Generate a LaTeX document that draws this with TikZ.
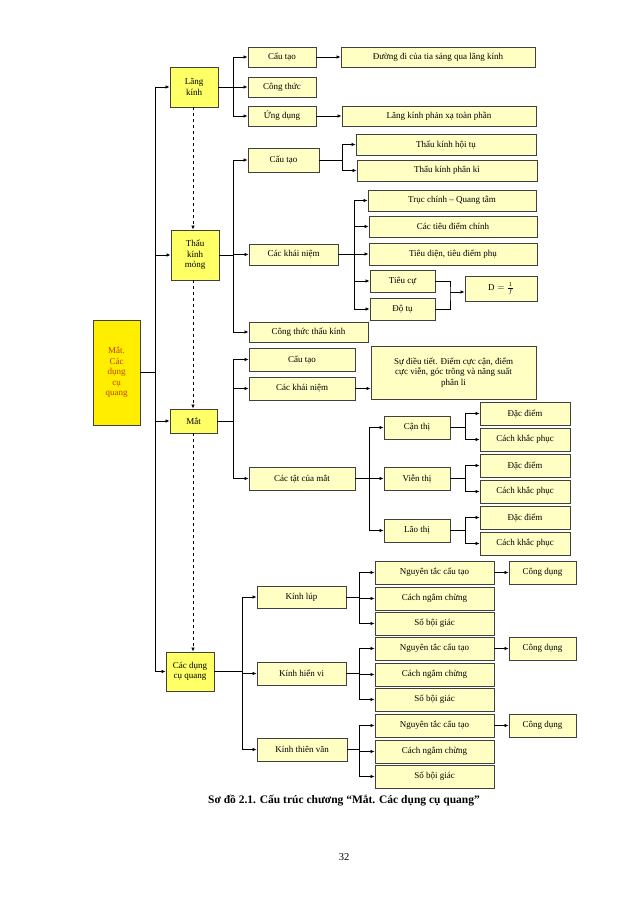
\documentclass[tikz,border=0pt]{standalone}
\usepackage{fontspec}
\setmainfont{Liberation Serif}
\usetikzlibrary{arrows.meta}
\definecolor{lt}{HTML}{FFFFC4}
\definecolor{md}{HTML}{FFFF66}
\definecolor{rt}{HTML}{FFEE00}
\definecolor{bd}{HTML}{404040}
\definecolor{rtx}{HTML}{C04000}
\tikzset{
 box/.style={draw=bd,line width=0.9pt,fill=lt,inner sep=1pt,align=center,font=\fontsize{9}{10.5}\selectfont},
 main/.style={box,fill=md},
 arr/.style={-{Latex[length=4pt,width=3.5pt]},line width=0.7pt},
 ln/.style={line width=0.7pt},
 darr/.style={arr,dashed}
}
\newcommand\bx[7][]{\node[box,#1,minimum width={((#4)-(#3))*1pt},minimum height={((#6)-(#5))*1pt}] (#2) at ({((#3)+(#4))/2},{((#5)+(#6))/2}) {#7};}
\begin{document}
\begin{tikzpicture}[x=1pt,y=-1pt]
\useasboundingbox[fill=white] (0,0) rectangle (638,902);
% main column
\bx[main,fill=rt,text=rtx]{R}{93}{140}{320}{425}{Mắt.\\Các\\dụng\\cụ\\quang}
\bx[main]{L}{170}{218}{67}{107}{Lăng\\kính}
\bx[main]{T}{171}{219}{230}{280}{Thấu\\kính\\mỏng}
\bx[main]{M}{170}{217}{409}{433}{Mắt}
\bx[main]{D}{166}{214}{652}{691}{Các dụng\\cụ quang}
\coordinate (t0) at (155,0);
\coordinate (tv) at (193,0);
\draw[ln] (R.east) -- (R.east -| t0);
\foreach \n in {L,T,M,D} \draw[arr] (R.east -| t0) |- (\n.west);
\draw[darr] (L.south -| tv) -- (T.north -| tv);
\draw[darr] (T.south -| tv) -- (M.north -| tv);
\draw[darr] (M.south -| tv) -- (D.north -| tv);
% Lang kinh
\bx{L1}{248}{316}{47}{67}{Cấu tạo}
\bx{L2}{248}{316}{77}{97}{Công thức}
\bx{L3}{248}{316}{106}{126}{Ứng dụng}
\bx{L1a}{341}{535}{47}{67}{Đường đi của tia sáng qua lăng kính}
\bx{L3a}{342}{536}{106}{126}{Lăng kính phản xạ toàn phần}
\coordinate (t1) at (233,0);
\draw[ln] (L.east) -- (L.east -| t1);
\foreach \n in {L1,L2,L3} \draw[arr] (L.east -| t1) |- (\n.west);
\draw[arr] (L1) -- (L1a); \draw[arr] (L3) -- (L3a);
% Thau kinh
\bx{T1}{248}{319}{148}{172}{Cấu tạo}
\bx{T2}{249}{338}{244}{265}{Các khái niệm}
\bx{T3}{249}{368}{322}{342}{Công thức thấu kính}
\draw[ln] (T.east) -- (T.east -| t1);
\foreach \n in {T1,T2,T3} \draw[arr] (T.east -| t1) |- (\n.west);
\bx{T1a}{356}{536}{134}{155}{Thấu kính hội tụ}
\bx{T1b}{357}{537}{160}{181}{Thấu kính phân kì}
\coordinate (t2) at (342,0);
\draw[ln] (T1.east) -- (T1.east -| t2);
\foreach \n in {T1a,T1b} \draw[arr] (T1.east -| t2) |- (\n.west);
\bx{K1}{368}{536}{190}{211}{Trục chính -- Quang tâm}
\bx{K2}{369}{537}{216}{237}{Các tiêu điểm chính}
\bx{K3}{369}{537}{243}{265}{Tiêu diện, tiêu điểm phụ}
\bx{K4}{370}{435}{270}{292}{Tiêu cự}
\bx{K5}{370}{435}{298}{320}{Độ tụ}
\coordinate (t3) at (354,0);
\draw[ln] (T2.east) -- (T2.east -| t3);
\foreach \n in {K1,K2,K3,K4,K5} \draw[arr] (T2.east -| t3) |- (\n.west);
\bx{KD}{465}{537}{276}{301}{$\mathrm{D}=\frac{1}{f}$}
\coordinate (t4) at (450,292);
\draw[ln] (K4.east) -| (t4) |- (K5.east);
\draw[arr] (t4) -- (t4 -| KD.west);
% Mat
\bx{M1}{249}{355}{348}{371}{Cấu tạo}
\bx{M2}{249}{355}{377}{400}{Các khái niệm}
\bx{M3}{249}{355}{467}{490}{Các tật của mắt}
\draw[ln] (M.east) -- (M.east -| t1);
\foreach \n in {M1,M2,M3} \draw[arr] (M.east -| t1) |- (\n.west);
\bx{M2a}{371}{536}{346}{399}{Sự điều tiết. Điểm cực cận, điểm\\cực viễn, góc trông và năng suất\\phân li}
\draw[arr] (M2.east) -- (M2.east -| M2a.west);
\bx{C1}{384}{450}{416}{439}{Cận thị}
\bx{C2}{384}{450}{467}{490}{Viễn thị}
\bx{C3}{384}{450}{519}{542}{Lão thị}
\coordinate (t5) at (369,0);
\draw[ln] (M3.east) -- (M3.east -| t5);
\foreach \n in {C1,C2,C3} \draw[arr] (M3.east -| t5) |- (\n.west);
\coordinate (t6) at (465,0);
\foreach \n/\a/\b in {C1/402/428,C2/454/480,C3/506/532}{
 \bx{\n a}{480}{570}{\a}{\a+23}{Đặc điểm}
 \bx{\n b}{480}{570}{\b}{\b+23}{Cách khắc phục}
 \draw[ln] (\n.east) -- (\n.east -| t6);
 \draw[arr] (\n.east -| t6) |- (\n a.west);
 \draw[arr] (\n.east -| t6) |- (\n b.west);
}
% Dung cu quang
\bx{D1}{257}{346}{586}{608}{Kính lúp}
\bx{D2}{257}{346}{662}{685}{Kính hiển vi}
\bx{D3}{257}{347}{738}{761}{Kính thiên văn}
\coordinate (t7) at (242,0);
\draw[ln] (D.east) -- (D.east -| t7);
\foreach \n in {D1,D2,D3} \draw[arr] (D.east -| t7) |- (\n.west);
\coordinate (t8) at (359,0);
\foreach \n/\a in {D1/561,D2/637,D3/714}{
 \bx{\n a}{375}{494}{\a}{\a+23}{Nguyên tắc cấu tạo}
 \bx{\n b}{375}{494}{\a+26}{\a+49}{Cách ngắm chừng}
 \bx{\n c}{375}{494}{\a+51}{\a+74}{Số bội giác}
 \bx{\n d}{509}{576}{\a}{\a+23}{Công dụng}
 \draw[ln] (\n.east) -- (\n.east -| t8);
 \foreach \m in {a,b,c} \draw[arr] (\n.east -| t8) |- (\n\m.west);
 \draw[arr] (\n a) -- (\n d);
}
\node[font=\bfseries\fontsize{11.5}{13}\selectfont] (cap) at (344,801) {Sơ đồ 2.1. Cấu trúc chương “Mắt. Các dụng cụ quang”};
\node[font=\fontsize{10.5}{12}\selectfont] (pg) at (344,857) {32};
\end{tikzpicture}
\end{document}
